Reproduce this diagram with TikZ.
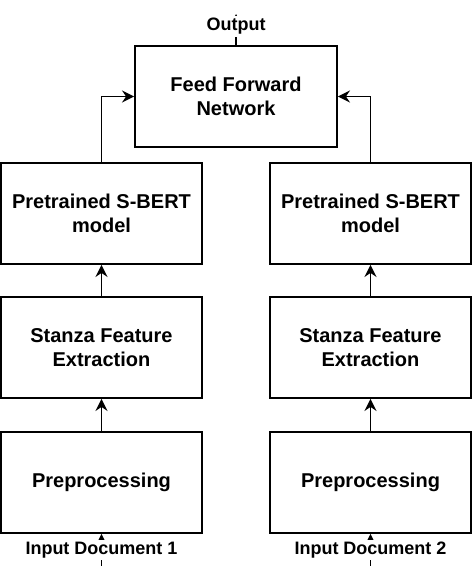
\documentclass[tikz,border=0pt]{standalone}
\usepackage{fontspec}
\setmainfont{Liberation Sans}
\usepackage{tikz}
\usetikzlibrary{arrows.meta, positioning}

\begin{document}
\begin{tikzpicture}[x=1pt, y=1pt,
            caja/.style={draw, line width=1.9pt, inner sep=0pt, minimum width=201pt, minimum height=101pt, align=center, font=\fontsize{20}{24.5}\selectfont\bfseries},
            flecha/.style={-{Stealth[length=12pt, width=12pt, inset=4pt]}, line width=1.9pt},
            etiqueta/.style={fill=white, inner sep=2pt, font=\fontsize{18}{20}\selectfont\bfseries}]
            \useasboundingbox (0,0) rectangle (474,581);

            % Red final
            \node[caja, minimum width=202pt] (ffn) at (236,484.5) {Feed Forward\\Network};
            \coordinate (salida) at (236,567);

            % Columna izquierda
            \node[caja] (bertI) at (101.5,367.5) {Pretrained S-BERT\\model};
            \node[caja] (stanzaI) at (101.5,233.5) {Stanza Feature\\Extraction};
            \node[caja] (preI) at (101.5,98.5) {Preprocessing};
            \coordinate (entI) at (101.5,15);

            % Columna derecha
            \node[caja] (bertD) at (370.5,367.5) {Pretrained S-BERT\\model};
            \node[caja] (stanzaD) at (370.5,233.5) {Stanza Feature\\Extraction};
            \node[caja] (preD) at (370.5,98.5) {Preprocessing};
            \coordinate (entD) at (370.5,15);

            % Flechas
            \draw[flecha] (entI) -- (preI) node[etiqueta, midway] {Input Document 1};
            \draw[flecha] (preI) -- (stanzaI);
            \draw[flecha] (stanzaI) -- (bertI);
            \draw[flecha] (bertI.north) |- (ffn.west);

            \draw[flecha] (entD) -- (preD) node[etiqueta, midway] {Input Document 2};
            \draw[flecha] (preD) -- (stanzaD);
            \draw[flecha] (stanzaD) -- (bertD);
            \draw[flecha] (bertD.north) |- (ffn.east);

            \draw[flecha] (ffn) -- (salida) node[etiqueta, pos=0.6] {Output};
        \end{tikzpicture}
\end{document}
